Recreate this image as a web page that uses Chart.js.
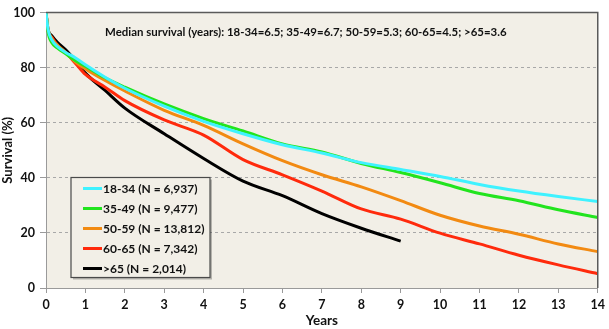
<!DOCTYPE html>
<html>
<head>
<meta charset="utf-8">
<script src="https://cdn.jsdelivr.net/npm/chart.js@4/dist/chart.umd.min.js"></script>
<style>
  html, body { margin: 0; padding: 0; background: #ffffff; }
  #wrap { width: 609px; height: 329px; position: relative; }
</style>
</head>
<body>
<div id="wrap"><canvas id="c" width="609" height="329"></canvas></div>
<script>
// ---- data ----
const years = [0, 0.05, 0.15, 0.3, 0.5, 0.75, 1, 1.5, 2, 3, 4, 5, 6, 7, 8, 9, 10, 11, 12, 13, 14];
const seriesLabels = ["18-34 (N = 6,937)", "35-49 (N = 9,477)", "50-59 (N = 13,812)", "60-65 (N = 7,342)", ">65 (N = 2,014)"];
const age18_34 = [100, 94, 90, 87.5, 85.5, 83.5, 81, 76.5, 72.5, 66, 60.5, 56, 52, 49, 45.5, 43, 40.5, 37.6, 35.2, 33.2, 31.4];
const age35_49 = [100, 93, 89, 87, 85, 82.5, 80.5, 76.3, 72.9, 66.8, 61.5, 57, 52.3, 49.4, 45.2, 41.9, 38.2, 34.3, 31.7, 28.4, 25.6];
const age50_59 = [100, 94, 90.5, 88, 85.5, 82, 79.5, 75.3, 71.5, 64.5, 59, 52.3, 46.2, 41.1, 36.7, 31.7, 26.4, 22.5, 19.5, 16, 13.2];
const age60_65 = [100, 93.5, 91, 88, 85.5, 81.5, 77.5, 72.9, 68, 61, 55.5, 46.6, 41.1, 35.2, 28.7, 25, 19.9, 16, 11.9, 8.4, 5.2];
const ageOver65 = [100, 94, 91.5, 89, 86.5, 82.5, 78, 71.7, 65.3, 56, 47, 38.8, 33.5, 27, 21.7, 17, null, null, null, null, null];
const medianText = "Median survival (years): 18-34=6.5; 35-49=6.7; 50-59=5.3; 60-65=4.5; >65=3.6";
const colors = ["#3ff2ff", "#22e41e", "#f28a12", "#ff2a0c", "#000000"];

const allSeries = [age18_34, age35_49, age50_59, age60_65, ageOver65];
const FONT = "Lato, 'DejaVu Sans', sans-serif";
const BG = "#f2efe7";

const datasets = allSeries.map((vals, i) => ({
  label: seriesLabels[i],
  data: years.map((x, j) => ({ x: x, y: vals[j] })).filter(p => p.y !== null),
  borderColor: colors[i],
  backgroundColor: colors[i],
  borderWidth: 3,
  pointRadius: 0,
  cubicInterpolationMode: 'monotone',
  fill: false
}));

const decorPlugin = {
  id: 'decor',
  beforeDraw(chart) {
    const { ctx, chartArea: a } = chart;
    ctx.save();
    ctx.fillStyle = BG;
    ctx.fillRect(a.left, a.top, a.right - a.left, a.bottom - a.top);
    ctx.restore();
  },
  afterDraw(chart) {
    const { ctx, chartArea: a } = chart;
    ctx.save();
    // top & right border
    ctx.strokeStyle = "#5a5a5a";
    ctx.lineWidth = 1.5;
    ctx.beginPath();
    ctx.moveTo(a.left, a.top);
    ctx.lineTo(a.right, a.top);
    ctx.lineTo(a.right, a.bottom);
    ctx.stroke();
    // median text
    ctx.fillStyle = "#111";
    ctx.textBaseline = "middle";
    ctx.textAlign = "left";
    let fs = 11.5;
    ctx.font = "bold " + fs + "px " + FONT;
    const w = ctx.measureText(medianText).width;
    fs = Math.min(13, fs * 402 / w);
    ctx.font = "bold " + fs.toFixed(2) + "px " + FONT;
    ctx.fillText(medianText, a.left + 59, a.top + 20);
    // legend box
    const bx = a.left + 25, by = a.top + 165, bw = 139, bh = 100;
    ctx.fillStyle = "rgba(0,0,0,0.25)";
    ctx.fillRect(bx + 2, by + 2, bw, bh);
    ctx.fillStyle = BG;
    ctx.fillRect(bx, by, bw, bh);
    ctx.strokeStyle = "#4a4a4a";
    ctx.lineWidth = 1.2;
    ctx.strokeRect(bx, by, bw, bh);
    ctx.font = "bold 12px " + FONT;
    chart.data.datasets.forEach((ds, i) => {
      const ry = by + 11 + i * 20;
      ctx.strokeStyle = ds.borderColor;
      ctx.lineWidth = 3;
      ctx.beginPath();
      ctx.moveTo(bx + 12, ry);
      ctx.lineTo(bx + 31, ry);
      ctx.stroke();
      ctx.fillStyle = "#111";
      ctx.fillText(ds.label, bx + 32, ry + 0.5);
    });
    ctx.restore();
  }
};

new Chart(document.getElementById('c'), {
  type: 'line',
  data: { datasets },
  options: {
    responsive: false,
    animation: false,
    devicePixelRatio: 1,
    layout: { padding: { top: 5, right: 8, left: 0, bottom: 0 } },
    plugins: { legend: { display: false }, tooltip: { enabled: false } },
    scales: {
      x: {
        type: 'linear',
        min: 0, max: 14,
        ticks: { stepSize: 1, color: "#111", font: { family: FONT, size: 12.5, weight: 'bold' }, padding: 4, maxRotation: 0 },
        grid: { drawOnChartArea: false, drawTicks: true, tickLength: 5, tickColor: "#9a9a9a" },
        border: { display: true, color: "#9a9a9a", width: 1 },
        title: { display: true, text: "Years", color: "#111", font: { family: FONT, size: 13.5, weight: 'bold' }, padding: 0 },
        afterFit(scale) { scale.height = 41; }
      },
      y: {
        min: 0, max: 100,
        ticks: { stepSize: 20, color: "#111", font: { family: FONT, size: 12.5, weight: 'bold' }, padding: 5 },
        grid: {
          drawTicks: true, tickLength: 6, tickColor: "#9a9a9a",
          color: (c) => (c.tick && (c.tick.value === 0 || c.tick.value === 100)) ? 'rgba(0,0,0,0)' : '#a8a8a8',
          lineWidth: 1
        },
        border: { display: true, color: "#9a9a9a", width: 1, dash: [3, 3] },
        title: { display: true, text: "Survival (%)", color: "#111", font: { family: FONT, size: 13, weight: 'bold' }, padding: 0 },
        afterFit(scale) { scale.width = 46; }
      }
    }
  },
  plugins: [decorPlugin]
});
</script>
</body>
</html>
